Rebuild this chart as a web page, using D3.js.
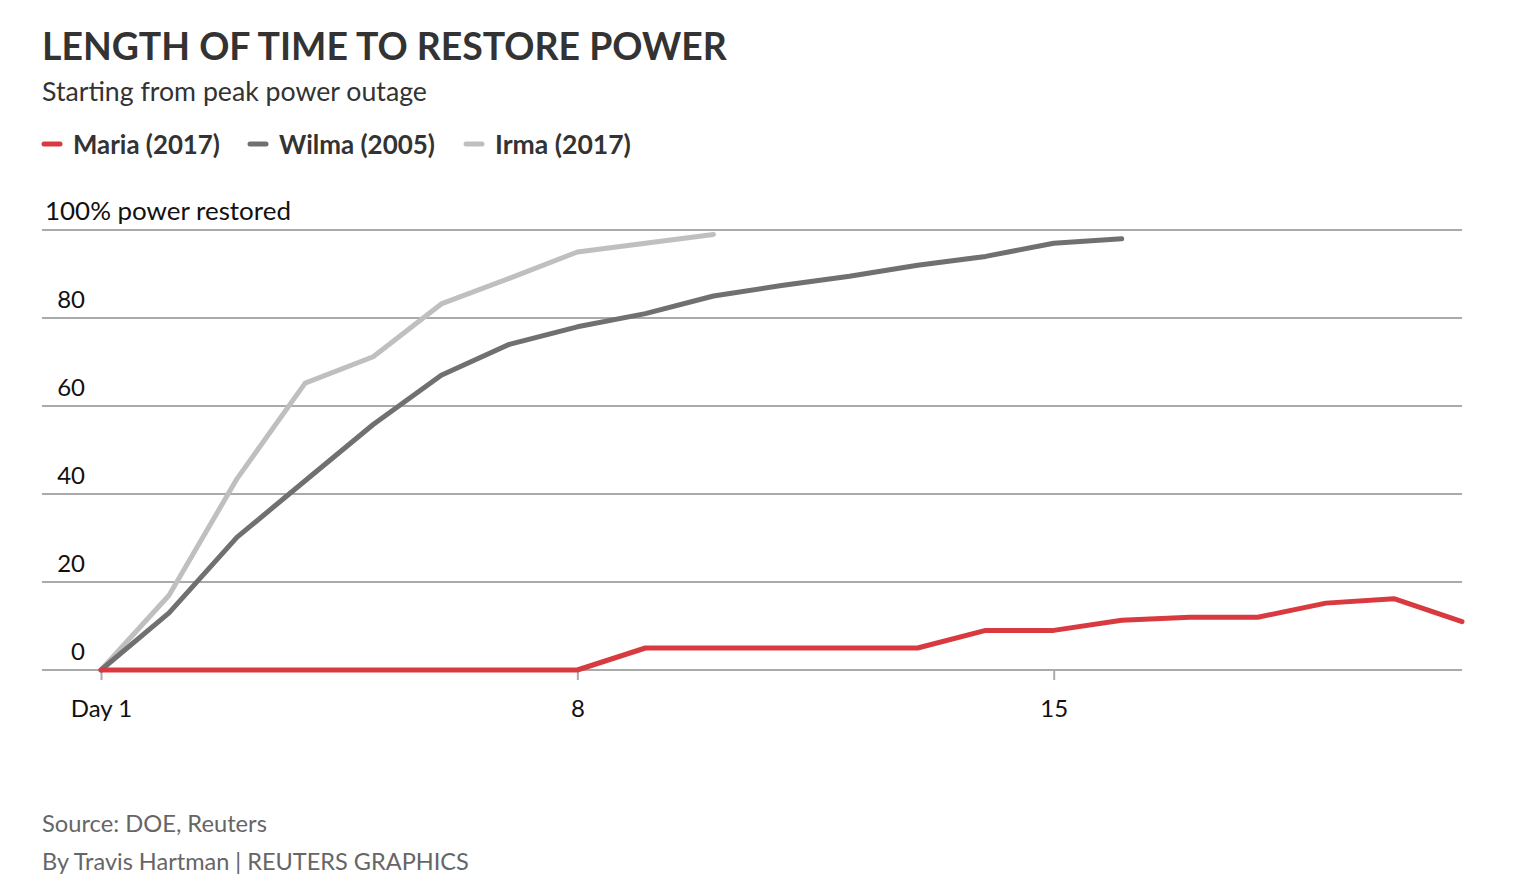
<!DOCTYPE html>
<html>
<head>
<meta charset="utf-8">
<script src="https://cdn.jsdelivr.net/npm/d3@7"></script>
<style>
  html, body { margin: 0; padding: 0; background: #fff; }
  svg { display: block; }
  text { font-family: Lato, "Open Sans", sans-serif; }
</style>
</head>
<body>
<svg id="chart" width="1522" height="894"></svg>
<script>
// ---- data ----
const days = [1,2,3,4,5,6,7,8,9,10,11,12,13,14,15,16,17,18,19,20,21];
const maria = [0,0,0,0,0,0,0,0,5,5,5,5,5,9,9,11.3,12,12,15.2,16.2,11];
const wilma = [0,13,30.2,43,55.8,67,74,78,81,85,87.4,89.5,92,94,97,98];
const irma  = [0,17,43.5,65.2,71.2,83.2,89,95,97,99];
const seriesNames = ["Maria (2017)", "Wilma (2005)", "Irma (2017)"];
const seriesColors = ["#d93a3f", "#707073", "#bfbfbf"];
const yTicks = [0,20,40,60,80,100];
const xTicks = [1,8,15];
const xTickLabels = ["Day 1","8","15"];

const svg = d3.select("#chart");

// helper: fit text to a target width by adjusting font-size
function fit(sel, target) {
  const node = sel.node();
  const fs = parseFloat(sel.attr("font-size"));
  const w = node.getComputedTextLength();
  if (w > 0) sel.attr("font-size", (fs * target / w).toFixed(2));
  return sel;
}

// ---- titles ----
fit(svg.append("text").attr("x", 42).attr("y", 60)
  .attr("font-size", 36).attr("font-weight", 700).attr("fill", "#333")
  .text("LENGTH OF TIME TO RESTORE POWER"), 685);

fit(svg.append("text").attr("x", 42).attr("y", 101)
  .attr("font-size", 26).attr("fill", "#333")
  .text("Starting from peak power outage"), 385);

// ---- legend ----
const legendX = [42, 248, 464];
const legendW = [147, 156, 136];
seriesNames.forEach((n, i) => {
  svg.append("line")
    .attr("x1", legendX[i] + 2).attr("x2", legendX[i] + 18)
    .attr("y1", 144).attr("y2", 144)
    .attr("stroke", seriesColors[i]).attr("stroke-width", 5)
    .attr("stroke-linecap", "round");
  fit(svg.append("text").attr("x", legendX[i] + 31).attr("y", 154)
    .attr("font-size", 26).attr("font-weight", 700).attr("fill", "#333")
    .text(n), legendW[i]);
});

// ---- scales ----
const x = d3.scaleLinear().domain([1, 21]).range([101, 1462]);
const y = d3.scaleLinear().domain([0, 100]).range([670, 230]);

// gridlines
svg.append("g").selectAll("line").data(yTicks).join("line")
  .attr("x1", 42).attr("x2", 1462)
  .attr("y1", d => y(d)).attr("y2", d => y(d))
  .attr("stroke", "#aaa").attr("stroke-width", 2);

// y labels
svg.append("g").selectAll("text").data(yTicks.filter(d => d < 100)).join("text")
  .attr("x", 85).attr("y", d => y(d) - 10)
  .attr("text-anchor", "end")
  .attr("font-size", 24).attr("fill", "#111")
  .text(d => d);

fit(svg.append("text").attr("x", 45).attr("y", 220)
  .attr("font-size", 26).attr("fill", "#111")
  .text("100% power restored"), 246);

// x axis ticks
const xAxis = d3.axisBottom(x).tickValues(xTicks)
  .tickSize(10).tickPadding(20)
  .tickFormat((d, i) => xTickLabels[i]);
const gx = svg.append("g").attr("transform", `translate(0,${y(0)})`).call(xAxis);
gx.select(".domain").remove();
gx.selectAll(".tick line").attr("stroke", "#aaa").attr("stroke-width", 2);
gx.selectAll(".tick text").attr("font-size", 24).attr("fill", "#111")
  .attr("font-family", "Lato, sans-serif");

// ---- lines ----
const line = d3.line().x((d, i) => x(days[i])).y(d => y(d));
const data = [irma, wilma, maria];
const cols = [seriesColors[2], seriesColors[1], seriesColors[0]];
data.forEach((s, i) => {
  svg.append("path")
    .attr("d", line(s))
    .attr("fill", "none")
    .attr("stroke", cols[i])
    .attr("stroke-width", 5)
    .attr("stroke-linejoin", "round")
    .attr("stroke-linecap", "round");
});

// ---- footer ----
fit(svg.append("text").attr("x", 42).attr("y", 832)
  .attr("font-size", 24).attr("fill", "#666")
  .text("Source: DOE, Reuters"), 225);
fit(svg.append("text").attr("x", 42).attr("y", 870)
  .attr("font-size", 24).attr("fill", "#666")
  .text("By Travis Hartman | REUTERS GRAPHICS"), 427);
</script>
</body>
</html>
